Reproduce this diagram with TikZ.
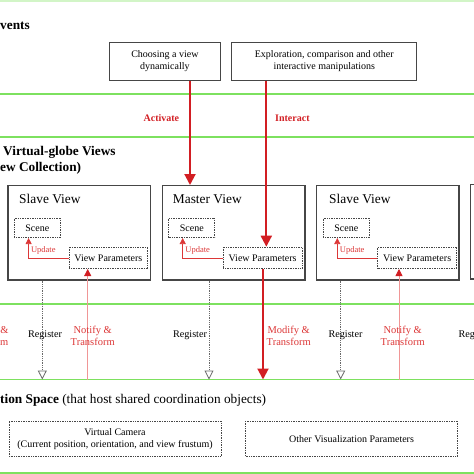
\documentclass[tikz,border=0pt]{standalone}
\usepackage{fontspec}
\setmainfont{Liberation Serif}
\usetikzlibrary{positioning,arrows.meta}

\definecolor{lanegreen}{RGB}{125,225,95}
\definecolor{framegray}{RGB}{70,70,70}
\definecolor{reggray}{RGB}{105,105,105}
\definecolor{actred}{RGB}{210,30,35}
\definecolor{updred}{RGB}{220,55,55}
\definecolor{ntfred}{RGB}{240,150,150}

\tikzset{
  lane/.style={draw=lanegreen, line width=1.8pt},
  viewbox/.style={draw=framegray, line width=1.3pt, minimum width=142.6pt, minimum height=94.3pt, inner sep=0pt, anchor=north west},
  subbox/.style={draw=framegray, densely dotted, line width=0.7pt, inner sep=0pt, align=center, font=\fontsize{10}{11.7}\selectfont},
  evbox/.style={draw=framegray, line width=1pt, inner sep=0pt, align=center, font=\fontsize{10}{12.3}\selectfont},
  head/.style={inner sep=0pt, anchor=base west, font=\fontsize{13.3}{16}\selectfont\bfseries},
  vtitle/.style={inner sep=0pt, anchor=base west, font=\fontsize{13.4}{16}\selectfont},
  lbl/.style={inner sep=0pt, font=\fontsize{10.2}{12}\selectfont},
  actlbl/.style={inner sep=0pt, text=actred, font=\fontsize{10}{12}\selectfont\bfseries},
  ntflbl/.style={inner sep=0pt, text=updred, align=center, font=\fontsize{10.5}{11.7}\selectfont},
  updlbl/.style={inner sep=0pt, text=updred, font=\fontsize{8.5}{10}\selectfont},
  act/.style={draw=actred, line width=2pt, -{Triangle[length=11pt,width=11pt]}},
  upd/.style={draw=updred, line width=0.7pt, -{Triangle[length=6pt,width=6pt]}},
  ntf/.style={draw=ntfred, line width=0.8pt, -{Triangle[length=7pt,width=7pt,color=actred]}},
  reg/.style={draw=reggray, densely dotted, line width=0.8pt, -{Triangle[open,length=9pt,width=9pt,fill=white]}}
}

\begin{document}
\begin{tikzpicture}[x=1pt,y=-1pt]
\useasboundingbox (0,0) rectangle (474,474);
\clip (0,0) rectangle (474,474);

\def\la{0.8}
\def\lb{93.7}
\def\lc{136.8}
\def\ld{304}
\def\le{379.5}
\def\lf{472.7}

\def\va{7.3}
\def\vb{161.7}
\def\vc{315.7}
\def\vd{470}
\def\vt{185}

\draw[lane, draw opacity=0.35, line width=3pt] (0,\la) -- (474,\la);
\draw[lane] (0,\lb) -- (474,\lb);
\draw[lane] (0,\lc) -- (474,\lc);
\draw[lane] (0,\ld) -- (474,\ld);
\draw[lane] (0,\le) -- (474,\le);
\draw[lane] (0,\lf) -- (474,\lf);

\node[head] (evt) at (0,29) {vents};
\node[evbox, minimum width=111.7pt, minimum height=38pt] (choose) at (164.9,61) {Choosing a view\\dynamically};
\node[evbox, minimum width=184.7pt, minimum height=38pt] (explore) at (324.3,61) {Exploration, comparison and other\\interactive manipulations};

\node[actlbl] (lact) at (161.4,118) {Activate};
\node[actlbl, anchor=west] (lint) at (275,118.5) {Interact};

\node[head] (vgv) at (3,155) {Virtual-globe Views};
\node[head] (vcol) at (0,171) {ew Collection)};

\node[viewbox] (v1) at (\va,\vt) {};
\node[vtitle] (t1) at (\va+11.7,203) {Slave View};
\node[subbox, minimum width=46pt, minimum height=19.6pt, anchor=north west] (sc1) at (\va+6.7,217.7) {Scene};
\node[subbox, minimum width=78.5pt, minimum height=21.6pt, anchor=north west] (vp1) at (\va+61.5,246.7) {View Parameters};
\draw[upd] (vp1.west) -| ([xshift=14.6pt]sc1.south west);
\node[updlbl] (u1) at (\va+36,250) {Update};

\node[viewbox] (v2) at (\vb,\vt) {};
\node[vtitle] (t2) at (\vb+11,203) {Master View};
\node[subbox, minimum width=46pt, minimum height=19.6pt, anchor=north west] (sc2) at (\vb+6.7,217.7) {Scene};
\node[subbox, minimum width=78.5pt, minimum height=21.6pt, anchor=north west] (vp2) at (\vb+61.3,246.7) {View Parameters};
\draw[upd] (vp2.west) -| ([xshift=14.3pt]sc2.south west);
\node[updlbl] (u2) at (\vb+36,250) {Update};

\node[viewbox] (v3) at (\vc,\vt) {};
\node[vtitle] (t3) at (\vc+13.3,203) {Slave View};
\node[subbox, minimum width=46pt, minimum height=19.6pt, anchor=north west] (sc3) at (\vc+7.3,217.7) {Scene};
\node[subbox, minimum width=79pt, minimum height=21.6pt, anchor=north west] (vp3) at (\vc+61.6,246.7) {View Parameters};
\draw[upd] (vp3.west) -| ([xshift=14.3pt]sc3.south west);
\node[updlbl] (u3) at (\vc+36.5,250) {Update};

\node[viewbox] (v4) at (\vd,184) {};

\coordinate (acx) at (190,0);
\coordinate (ix) at (266.3,0);
\coordinate (mx) at (263,\le);
\draw[act] (choose.south -| acx) -- (v2.north -| acx);
\draw[act] (explore.south -| ix) -- (vp2.north -| ix);
\draw[act] (vp2.south -| mx) -- (mx);

\coordinate (r1) at (42.3,\le);
\coordinate (r2) at (209,\le);
\coordinate (r3) at (340.7,\le);
\draw[reg] (v1.south -| r1) -- (r1);
\draw[reg] (v2.south -| r2) -- (r2);
\draw[reg] (v3.south -| r3) -- (r3);
\node[lbl, anchor=base] (rl1) at (45,337.3) {Register};
\node[lbl, anchor=base] (rl2) at (190,337.3) {Register};
\node[lbl, anchor=base] (rl3) at (345.5,337.3) {Register};
\node[lbl, anchor=base west] (rl4) at (458.3,337.3) {Reg};

\coordinate (n1) at (87.7,\le);
\coordinate (n3) at (399,\le);
\draw[ntf] (n1) -- (vp1.south -| n1);
\draw[ntf] (n3) -- (vp3.south -| n3);
\node[ntflbl] (nl1) at (92.7,335.5) {Notify \&\\Transform};
\node[ntflbl] (nl3) at (402.7,335.5) {Notify \&\\Transform};
\node[ntflbl] (ml2) at (288.7,335.5) {Modify \&\\Transform};
\node[ntflbl, anchor=base west] (fa) at (0.3,333.3) {\&};
\node[ntflbl, anchor=base west] (fb) at (0,345) {m};

\node[head] (csp) at (0,403.3) {tion Space \textmd{(that host shared coordination objects)}};
\node[subbox, minimum width=212pt, minimum height=35.7pt] (cam) at (115,438.8) {Virtual Camera\\(Current position, orientation, and view frustum)};
\node[subbox, minimum width=211.6pt, minimum height=35.7pt] (other) at (351.5,438.8) {Other Visualization Parameters};

\end{tikzpicture}
\end{document}
